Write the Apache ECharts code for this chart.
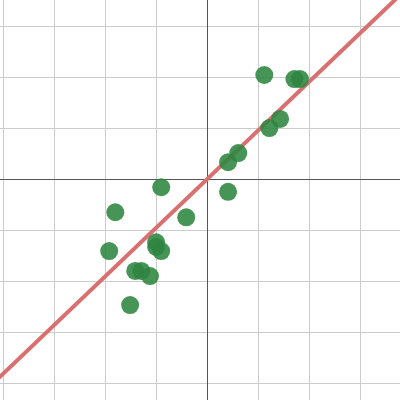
<!DOCTYPE html>
<html><head><meta charset="utf-8">
<script src="https://cdn.jsdelivr.net/npm/echarts@6/dist/echarts.min.js"></script>
<style>html,body{margin:0;padding:0;background:#fff}#c{width:400px;height:400px}</style>
</head><body><div id="c"></div>
<script>
const xs=[1.12,1.71,1.82,1.22,1.43,0.41,0.61,0.41,-0.90,-0.41,-1.80,-1.92,-1.0,-1.0,-0.90,-1.41,-1.29,-1.12,-1.51];
const ys=[2.04,1.96,1.96,1.0,1.18,0.33,0.51,-0.25,-0.16,-0.75,-0.65,-1.41,-1.24,-1.33,-1.41,-1.80,-1.80,-1.90,-2.47];
const slope=0.954;
const lineX=[-5,4];
const gridVals=[-4,-3,-2,-1,1,2,3];
const c=echarts.init(document.getElementById('c'));
const ax={axisLabel:{show:false},axisTick:{show:false},axisLine:{show:false},splitLine:{show:false}};
const ml=[];
gridVals.forEach(v=>{ml.push({xAxis:v,lineStyle:{color:'#ccc',width:1,type:'solid'}});ml.push({yAxis:v,lineStyle:{color:'#ccc',width:1,type:'solid'}});});
ml.push({xAxis:0,lineStyle:{color:'#555',width:1,type:'solid'}});
ml.push({yAxis:0,lineStyle:{color:'#555',width:1,type:'solid'}});
c.setOption({animation:false,
 grid:{left:0,top:0,right:0,bottom:0},
 xAxis:Object.assign({type:'value',min:-4.06,max:3.78},ax),
 yAxis:Object.assign({type:'value',min:-4.33,max:3.51},ax),
 series:[
  {type:'line',data:lineX.map(x=>[x,slope*x]),symbol:'none',lineStyle:{color:'#d9706f',width:4},z:3,
   markLine:{silent:true,symbol:'none',label:{show:false},animation:false,data:ml,z:1}},
  {type:'scatter',data:xs.map((x,i)=>[x,ys[i]]),symbolSize:18,itemStyle:{color:'#2e8540',opacity:0.88},z:4}
 ]});
</script></body></html>
